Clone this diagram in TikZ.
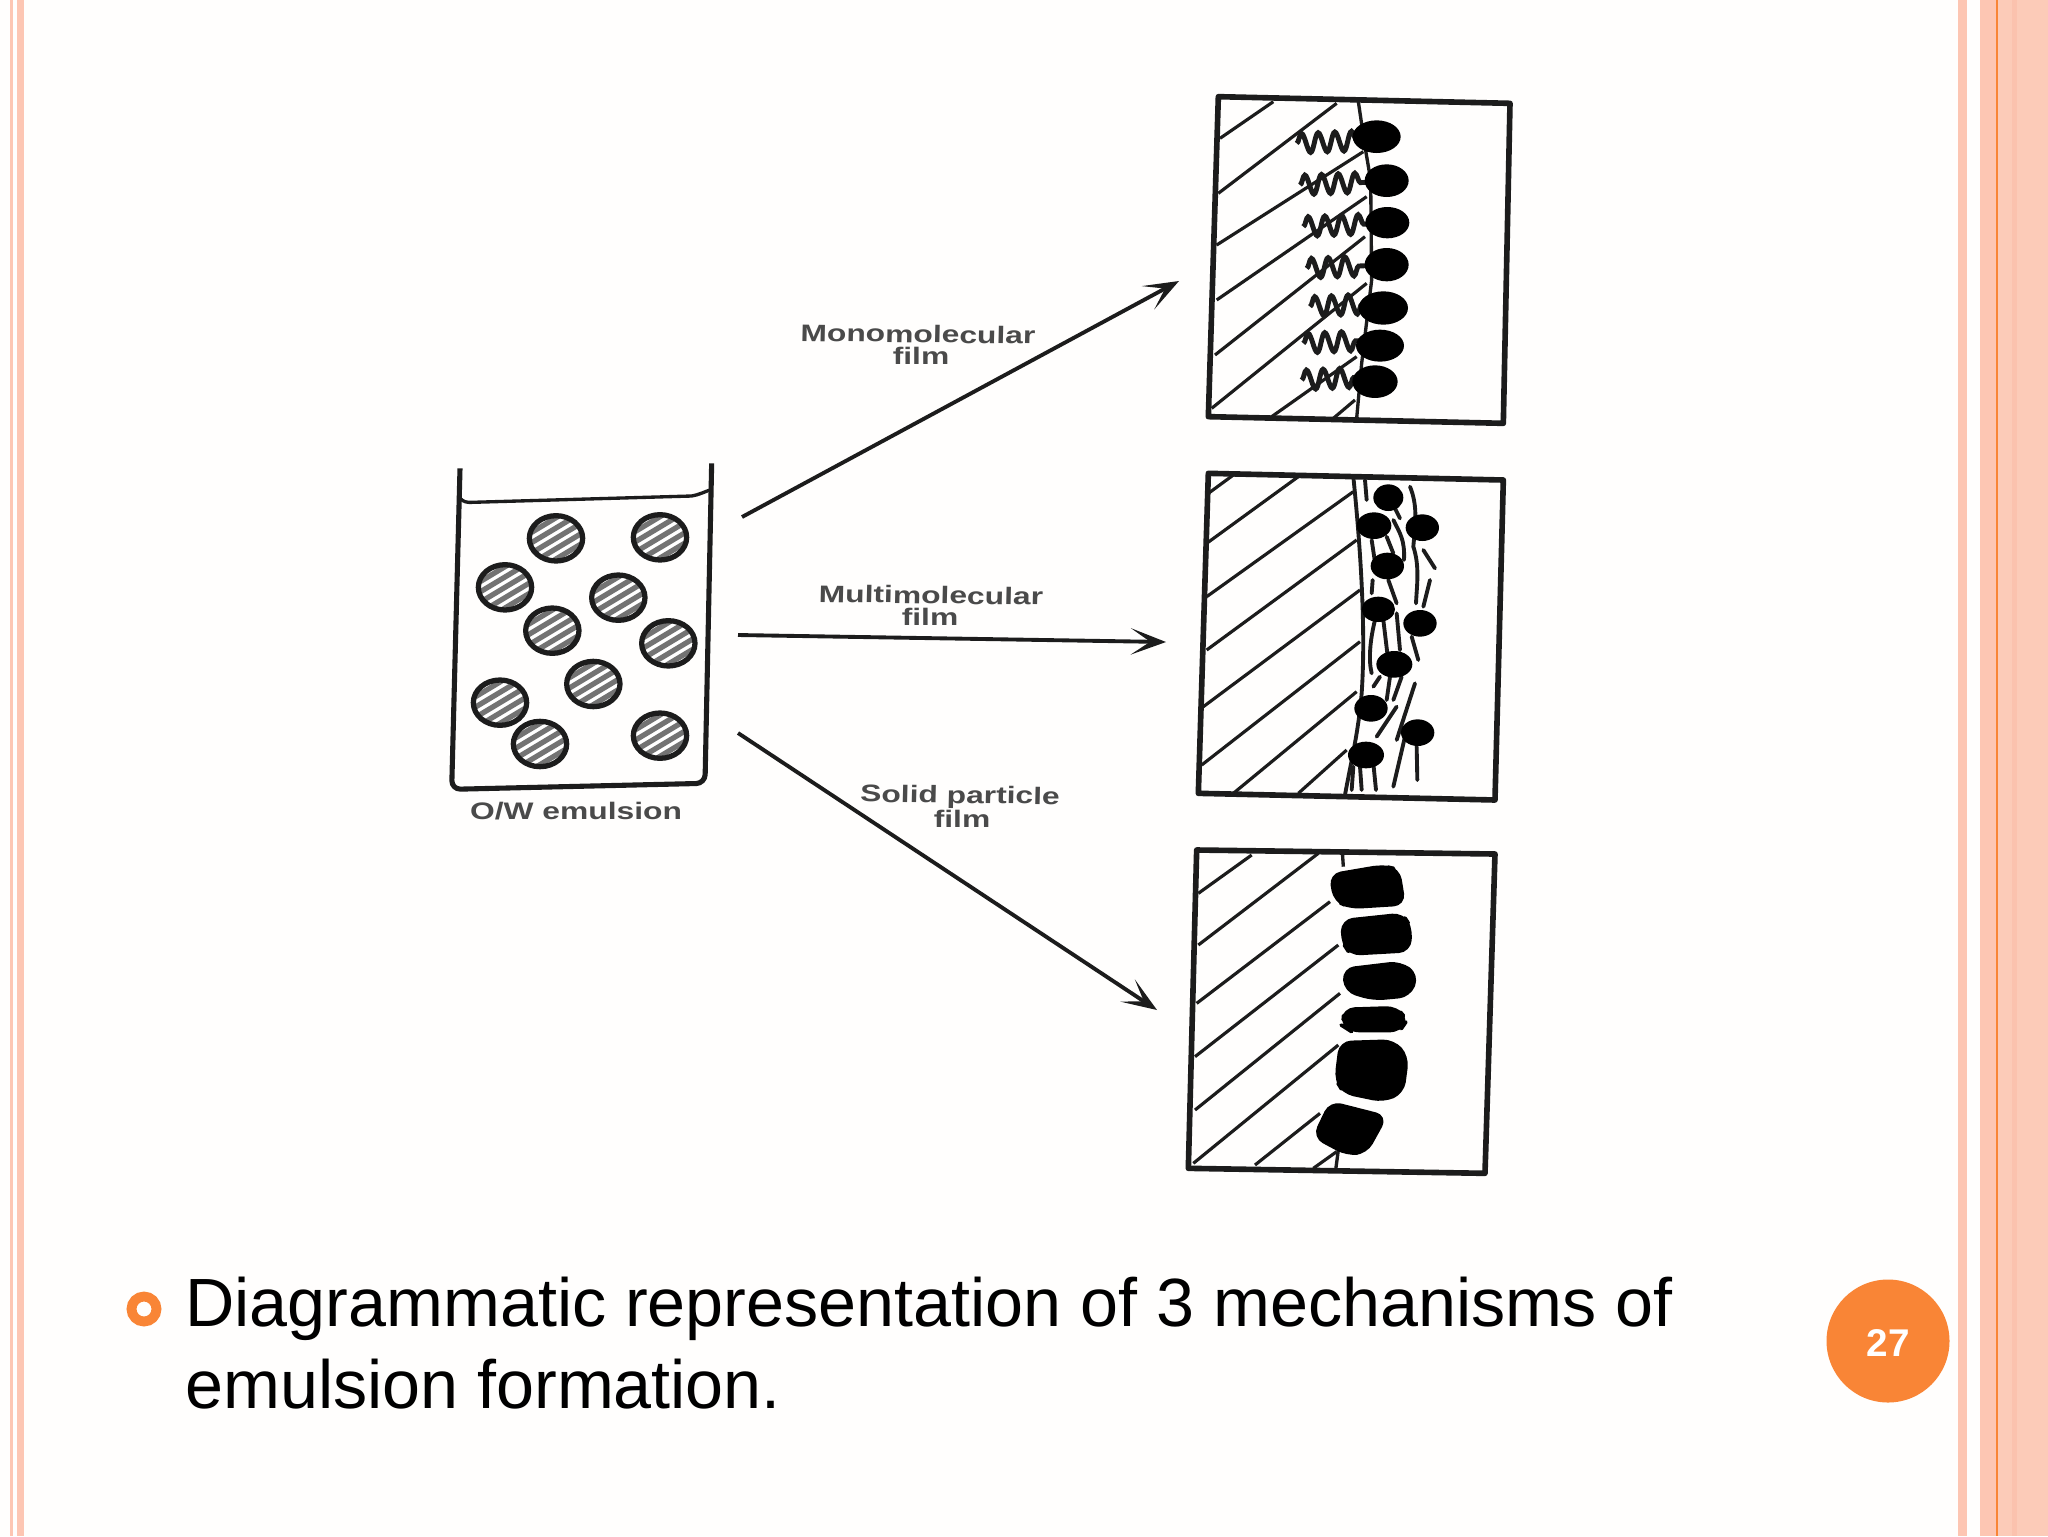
\documentclass[tikz,border=0pt]{standalone}
\usepackage{fontspec}
\setmainfont{Liberation Sans}
\usetikzlibrary{arrows.meta,decorations.pathmorphing}
\definecolor{bgw}{HTML}{FFFEFD}
\definecolor{peach}{HTML}{FDC6B3}
\definecolor{peachb}{HTML}{FCCBB8}
\definecolor{peachc}{HTML}{FBC2AE}
\definecolor{orangeln}{HTML}{F98536}
\definecolor{ink}{HTML}{1C1C1C}
\definecolor{lab}{HTML}{4A4A4A}
\tikzset{
  frameln/.style={draw=ink,line width=3.2pt,line join=round},
  hatchln/.style={draw=ink,line width=1.8pt},
  blob/.style={fill=black,draw=black,line width=2pt,line join=round},
  strand/.style={draw=ink,line width=2.2pt,line cap=round},
  wig/.style={draw=ink,line width=2.8pt,decorate,decoration={snake,segment length=9.5pt,amplitude=5.5pt}},
  arrowln/.style={draw=ink,line width=2.2pt,-{Stealth[length=20pt,width=15pt,inset=11pt]}},
  lbl/.style={text=lab,font=\fontsize{13.6}{13.6}\selectfont\bfseries,inner sep=0pt,xscale=1.33},
  stripe/.style={draw=black!55,line width=3pt},
  zoomed/.style={x=0.0066667cm,y=-0.0066667cm}
}
\newcommand{\elli}[4]{\fill[black] (#1,#2) ellipse [x radius=#3,y radius=#4];}
\begin{document}
\begin{tikzpicture}[x=0.02cm,y=-0.02cm]
\useasboundingbox (0,0) rectangle (2048,1536);
\fill[bgw] (0,0) rectangle (2048,1536);
% slide edges
\fill[peach] (10,0) rectangle (13,1536);
\fill[peach] (17,0) rectangle (24,1536);
\fill[peach] (1958,0) rectangle (1967,1536);
\fill[peach] (1980,0) rectangle (1997,1536);
\fill[peachb] (1997,0) rectangle (2048,1536);
\fill[peachc] (2012,0) rectangle (2017,1536);
\fill[orangeln] (1996,0) rectangle (1998,1536);

% beaker
\begin{scope}[shift={(430,450)},zoomed]
\draw[frameln,line width=2.9pt,rounded corners=5pt] (90,55) -- (65,1018) -- (825,1000) -- (845,40);
\draw[draw=ink,line width=1.9pt] (90,145) .. controls (100,155) and (110,158) .. (125,157) -- (785,138) .. controls (805,135) and (825,125) .. (845,118);
\foreach \cx/\cy in {378/265,690/262,225/412,565/443,367/542,715/580,490/702,210/758,330/882,690/857}{
  \begin{scope}
    \clip (\cx,\cy) ellipse [x radius=80,y radius=68];
    \fill[white] (\cx-90,\cy-80) rectangle (\cx+90,\cy+80);
    \foreach \k in {-6,...,6}{
      \draw[stripe] (\cx-100,\cy+\k*31+60) -- (\cx+100,\cy+\k*31-60);
    }
  \end{scope}
  \draw[draw=ink,line width=3pt] (\cx,\cy) ellipse [x radius=80,y radius=68];
}
\end{scope}
\node[lbl] (emul) at (576,811) {O/W emulsion};

% panel 1
\begin{scope}[shift={(1180,80)},zoomed]
\draw[frameln] (115,50) -- (990,70) -- (970,1030) -- (85,1010) -- cycle;
\draw[draw=ink,line width=1.9pt] (535,65) -- (555,200) -- (572,300) -- (575,600) -- (545,850) -- (530,1015);
\foreach \a/\b/\c/\d in {120/175/280/65,115/340/470/70,110/495/550/215,110/660/560/350,105/825/555/470,95/985/560/610,275/1010/530/830,460/1015/525/960}{
  \draw[hatchln] (\a,\b) -- (\c,\d);
}
\foreach \xa/\xb/\yy in {350/540/190,360/560/315,370/560/440,380/560/565,390/550/680,370/540/790,365/530/900}{
  \draw[wig] (\xa,\yy) -- (\xb,\yy-8);
}
\elli{590}{170}{72}{49}
\elli{620}{302}{66}{49}
\elli{622}{428}{66}{47}
\elli{620}{554}{66}{50}
\elli{610}{684}{74}{50}
\elli{600}{797}{72}{48}
\elli{585}{905}{68}{49}
\end{scope}

% panel 2
\begin{scope}[shift={(1180,460)},zoomed]
\draw[frameln] (85,40) -- (970,60) -- (945,1020) -- (55,1000) -- cycle;
\draw[draw=ink,line width=2.2pt] (520,50) .. controls (535,200) and (560,480) .. (545,700) .. controls (535,820) and (510,920) .. (495,1005);
\foreach \a/\b/\c/\d in {85/100/160/45,80/250/355/50,80/410/520/95,80/570/530/240,70/740/540/390,65/915/540/545,160/1000/530/695,355/1000/500/870}{
  \draw[hatchln] (\a,\b) -- (\c,\d);
}
\draw[strand] (555,60) -- (560,120);
\draw[strand] (690,80) .. controls (715,140) and (705,200) .. (700,260) .. controls (720,320) and (710,380) .. (708,430);
\draw[strand] (730,270) -- (765,325);
\draw[strand] (750,360) -- (730,440);
\draw[strand] (635,125) -- (660,175);
\draw[strand] (640,180) .. controls (660,220) and (675,240) .. (672,300);
\draw[strand] (575,240) -- (590,340);
\draw[strand] (620,230) -- (640,280);
\draw[strand] (625,360) -- (650,430);
\draw[strand] (578,360) -- (575,400);
\draw[strand] (585,480) .. controls (570,540) and (565,600) .. (575,640);
\draw[strand] (610,480) -- (622,580);
\draw[strand] (650,460) -- (660,570);
\draw[strand] (695,530) -- (715,600);
\draw[strand] (600,650) -- (580,680);
\draw[strand] (630,650) -- (620,720);
\draw[strand] (665,650) -- (640,720);
\draw[strand] (705,670) -- (650,840);
\draw[strand] (650,740) -- (590,830);
\draw[strand] (675,830) -- (640,980);
\draw[strand] (710,860) -- (712,960);
\draw[strand] (520,920) -- (515,990);
\draw[strand] (540,920) -- (545,990);
\draw[strand] (580,910) -- (588,990);
\elli{625}{113}{45}{40}
\elli{582}{197}{52}{40}
\elli{727}{203}{50}{40}
\elli{622}{318}{50}{40}
\elli{595}{448}{50}{38}
\elli{720}{490}{50}{40}
\elli{643}{613}{54}{40}
\elli{573}{745}{50}{40}
\elli{713}{818}{50}{40}
\elli{558}{885}{54}{40}
\end{scope}

% panel 3
\begin{scope}[shift={(1170,830)},zoomed]
\draw[frameln] (80,60) -- (975,72) -- (945,1030) -- (55,1015) -- cycle;
\draw[draw=ink,line width=1.9pt] (517,65) -- (520,110);
\draw[draw=ink,line width=1.9pt] (505,960) -- (497,1020);
\foreach \a/\b/\c/\d in {85/190/245/75,85/345/445/70,80/520/480/215,75/680/505/345,75/840/510/490,70/1000/505/645,255/1005/450/850,430/1015/500/965}{
  \draw[hatchln] (\a,\b) -- (\c,\d);
}
\path[blob,rounded corners=6pt] (482,135) -- (640,108) -- (685,118) -- (702,222) -- (540,232) -- (495,212) -- cycle;
\path[blob,rounded corners=6pt] (518,272) -- (698,253) -- (722,290) -- (718,362) -- (540,372) -- (518,338) -- cycle;
\path[blob,rounded corners=6pt] (522,418) -- (690,398) -- (742,435) -- (718,497) -- (610,507) -- (527,482) -- cycle;
\path[blob,rounded corners=6pt] (522,538) -- (680,533) -- (712,570) -- (690,602) -- (540,602) -- (518,588) -- cycle;
\path[blob,rounded corners=6pt] (512,638) -- (670,633) -- (712,680) -- (698,787) -- (640,812) -- (520,787) -- (498,750) -- cycle;
\path[blob,rounded corners=6pt] (482,818) -- (647,860) -- (588,967) -- (530,972) -- (433,920) -- cycle;
\end{scope}

% arrows
\coordinate (a1s) at (742,517); \coordinate (a1e) at (1179,281);
\coordinate (a2s) at (738,635); \coordinate (a2e) at (1166,642);
\coordinate (a3s) at (738,733); \coordinate (a3e) at (1157,1010);
\draw[arrowln] (a1s) -- (a1e);
\draw[arrowln] (a2s) -- (a2e);
\draw[arrowln] (a3s) -- (a3e);

\node[lbl,rotate=-1] (mono) at (918,334) {Monomolecular};
\node[lbl] (monof) at (921,356) {film};
\node[lbl,rotate=-1] (multi) at (931,595) {Multimolecular};
\node[lbl] (multif) at (930,617) {film};
\node[lbl,rotate=-1] (solid) at (960,797) {Solid particle};
\node[lbl] (solidf) at (962,819) {film};

% bullet
\draw[draw=orangeln,line width=5.6pt] (144,1309) circle [radius=12.5];
\node[anchor=base west,inner sep=0pt,text=black,font=\fontsize{38.85}{46}\selectfont] (t1) at (185,1326) {Diagrammatic representation of 3 mechanisms of};
\node[anchor=base west,inner sep=0pt,text=black,font=\fontsize{38.85}{46}\selectfont] (t2) at (185,1408) {emulsion formation.};
% page number
\fill[orangeln] (1888,1341) circle [radius=61.5];
\node[text=white,inner sep=0pt,font=\fontsize{22}{22}\selectfont\bfseries] (pg) at (1888,1343) {27};
\end{tikzpicture}
\end{document}
